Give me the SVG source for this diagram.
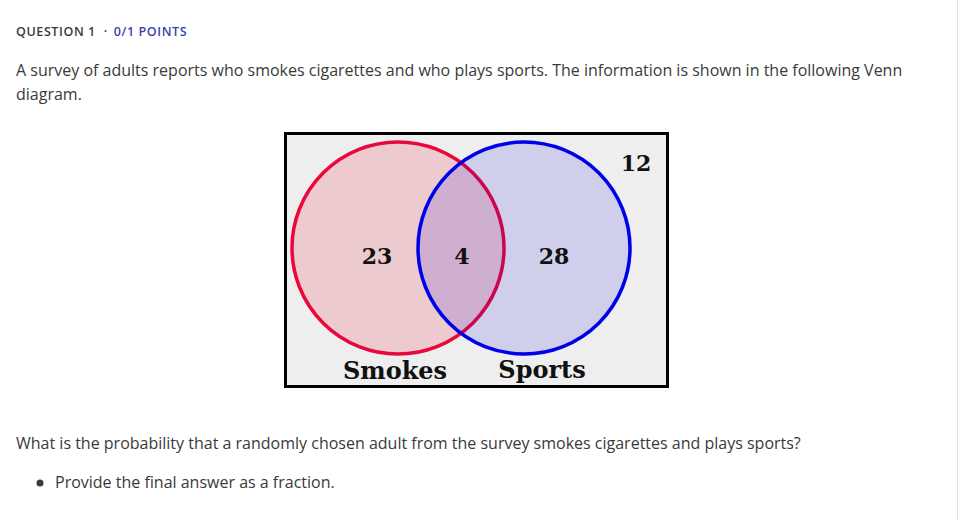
<svg xmlns="http://www.w3.org/2000/svg" width="961" height="521" viewBox="0 0 961 521">
<style>
.ui{font-family:"Open Sans","Noto Sans",sans-serif;fill:#3a3a3a}
.num{font-family:"DejaVu Serif","Liberation Serif",serif;font-weight:bold;font-size:22px;fill:#111;text-anchor:middle}
.lbl{font-family:"DejaVu Serif","Liberation Serif",serif;font-weight:bold;font-size:24px;fill:#111;text-anchor:middle}
</style>
<rect width="961" height="521" fill="#fff"/>
<line x1="957.5" y1="0" x2="957.5" y2="521" stroke="#e4e4e4"/>
<text class="ui" x="16" y="36" font-size="12.5" font-weight="600" letter-spacing="0.6">QUESTION 1 <tspan dx="4">·</tspan><tspan dx="6" fill="#3b3fb0">0/1 POINTS</tspan></text>
<text class="ui" x="16" y="76" font-size="16">A survey of adults reports who smokes cigarettes and who plays sports. The information is shown in the following Venn</text>
<text class="ui" x="16" y="100" font-size="16">diagram.</text>
<g id="venn">
<rect x="285.5" y="133.5" width="382" height="253" fill="#eeeeee" stroke="#000" stroke-width="3"/>
<g id="smokes"><circle cx="398" cy="248" r="106" fill="#e8001c" fill-opacity="0.15" stroke="#e8083a" stroke-width="3.5"/></g>
<g id="sports"><circle cx="524" cy="248" r="106" fill="#0000e0" fill-opacity="0.13" stroke="#0000e8" stroke-width="3.5"/></g>
<text class="num" x="377" y="264">23</text>
<text class="num" x="462" y="264">4</text>
<text class="num" x="554" y="264">28</text>
<text class="num" x="636" y="171">12</text>
<text class="lbl" x="395" y="379">Smokes</text>
<text class="lbl" x="542" y="378">Sports</text>
</g>
<text class="ui" x="16" y="449" font-size="16">What is the probability that a randomly chosen adult from the survey smokes cigarettes and plays sports?</text>
<circle cx="40" cy="483" r="3.5" fill="#3a3a3a"/>
<text class="ui" x="55" y="488" font-size="16">Provide the final answer as a fraction.</text>
</svg>
